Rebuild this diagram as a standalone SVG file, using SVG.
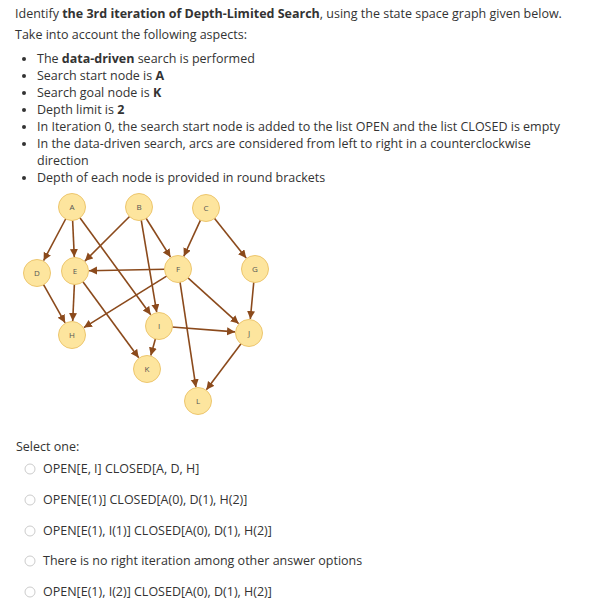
<svg xmlns="http://www.w3.org/2000/svg" width="600" height="604" viewBox="0 0 600 604">
<style>
text{font-family:"Open Sans","Liberation Sans",sans-serif;fill:#333;font-size:12.5px}
.b{font-weight:bold}
.n circle{fill:#fde59e;stroke:#edc66e;stroke-width:1}
.n text{font-size:8px;text-anchor:middle;fill:#555}
.e line{stroke:#8b4a1c;stroke-width:1.6;marker-end:url(#ar)}
.r{fill:#fff;stroke:#ccc;stroke-width:1}
</style>
<defs><marker id="ar" markerUnits="userSpaceOnUse" markerWidth="9" markerHeight="9" refX="8" refY="4" orient="auto"><path d="M0,0L8,4L0,8z" fill="#8b4a1c"/></marker></defs>
<rect width="600" height="604" fill="#fff"/>
<text x="15" y="18">Identify <tspan class="b">the 3rd iteration of Depth-Limited Search</tspan>, using the state space graph given below.</text>
<text x="15" y="39">Take into account the following aspects:</text>
<g fill="#333"><circle cx="24" cy="59" r="2"/><circle cx="24" cy="76" r="2"/><circle cx="24" cy="93" r="2"/><circle cx="24" cy="110" r="2"/><circle cx="24" cy="127" r="2"/><circle cx="24" cy="144" r="2"/><circle cx="24" cy="178" r="2"/></g>
<text x="37" y="63">The <tspan class="b">data-driven</tspan> search is performed</text>
<text x="37" y="80">Search start node is <tspan class="b">A</tspan></text>
<text x="37" y="97">Search goal node is <tspan class="b">K</tspan></text>
<text x="37" y="114">Depth limit is <tspan class="b">2</tspan></text>
<text x="37" y="131">In Iteration 0, the search start node is added to the list OPEN and the list CLOSED is empty</text>
<text x="37" y="148">In the data-driven search, arcs are considered from left to right in a counterclockwise</text>
<text x="37" y="165">direction</text>
<text x="37" y="182">Depth of each node is provided in round brackets</text>
<g class="e" id="edges">
<line x1="65.9" y1="218.5" x2="43.6" y2="260.6"/>
<line x1="72.6" y1="220" x2="74.3" y2="257"/>
<line x1="79.7" y1="217.5" x2="150.7" y2="314.7"/>
<line x1="129.8" y1="216.2" x2="84.9" y2="261.1"/>
<line x1="145.9" y1="218" x2="170.5" y2="257.1"/>
<line x1="141.2" y1="219.8" x2="156.7" y2="312.2"/>
<line x1="200.6" y1="219.8" x2="183.8" y2="256.3"/>
<line x1="214.2" y1="218.1" x2="246.2" y2="258.1"/>
<line x1="165" y1="269.3" x2="89" y2="270.7"/>
<line x1="43.4" y1="284.3" x2="65.1" y2="322.8"/>
<line x1="74.4" y1="284" x2="72.7" y2="321"/>
<line x1="82.7" y1="281.5" x2="138.7" y2="357.7"/>
<line x1="167" y1="275.9" x2="83.9" y2="327.6"/>
<line x1="187.7" y1="277.7" x2="238.6" y2="323.6"/>
<line x1="180" y1="281.9" x2="195.9" y2="387.2"/>
<line x1="253.8" y1="282" x2="250.3" y2="319"/>
<line x1="172" y1="327" x2="235" y2="331.9"/>
<line x1="155.5" y1="338.5" x2="150.8" y2="355.5"/>
<line x1="241.2" y1="343.4" x2="206.4" y2="389.8"/>
</g>
<g class="n" id="A"><circle cx="72" cy="207" r="13.5"/><text x="72" y="210">A</text></g>
<g class="n" id="B"><circle cx="139" cy="207" r="13.5"/><text x="139" y="210">B</text></g>
<g class="n" id="C"><circle cx="206" cy="208" r="13.5"/><text x="206" y="211">C</text></g>
<g class="n" id="D"><circle cx="37" cy="273" r="13.5"/><text x="37" y="276">D</text></g>
<g class="n" id="E"><circle cx="75" cy="271" r="13.5"/><text x="75" y="274">E</text></g>
<g class="n" id="F"><circle cx="178" cy="269" r="13.5"/><text x="178" y="272">F</text></g>
<g class="n" id="G"><circle cx="255" cy="269" r="13.5"/><text x="255" y="272">G</text></g>
<g class="n" id="H"><circle cx="72" cy="335" r="13.5"/><text x="72" y="338">H</text></g>
<g class="n" id="I"><circle cx="159" cy="326" r="13.5"/><text x="159" y="329">I</text></g>
<g class="n" id="J"><circle cx="249" cy="333" r="13.5"/><text x="249" y="336">J</text></g>
<g class="n" id="K"><circle cx="147" cy="369" r="13.5"/><text x="147" y="372">K</text></g>
<g class="n" id="L"><circle cx="198" cy="401" r="13.5"/><text x="198" y="404">L</text></g>
<text x="16" y="451">Select one:</text>
<circle class="r" cx="30" cy="469" r="5"/><text x="43" y="473">OPEN[E, I] CLOSED[A, D, H]</text>
<circle class="r" cx="30" cy="500" r="5"/><text x="43" y="504">OPEN[E(1)] CLOSED[A(0), D(1), H(2)]</text>
<circle class="r" cx="30" cy="531" r="5"/><text x="43" y="535">OPEN[E(1), I(1)] CLOSED[A(0), D(1), H(2)]</text>
<circle class="r" cx="30" cy="561" r="5"/><text x="43" y="565">There is no right iteration among other answer options</text>
<circle class="r" cx="30" cy="592" r="5"/><text x="43" y="596">OPEN[E(1), I(2)] CLOSED[A(0), D(1), H(2)]</text>
</svg>
